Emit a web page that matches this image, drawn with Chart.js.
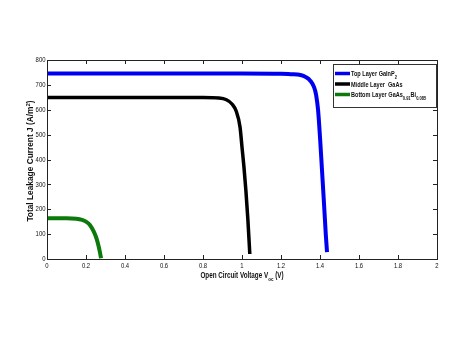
<!DOCTYPE html>
<html>
<head>
<meta charset="utf-8">
<script src="https://cdn.jsdelivr.net/npm/chart.js@4/dist/chart.umd.min.js"></script>
<style>
  html, body { margin: 0; padding: 0; background: #fff; }
  #wrap { width: 474px; height: 349px; }
</style>
</head>
<body>
<div id="wrap"><canvas id="jv"></canvas></div>
<script>
// J-V curves of the three sub-cells
var vTop = [0, 0.2, 0.4, 0.6, 0.8, 1.0, 1.2, 1.25, 1.30, 1.33, 1.35, 1.37, 1.38, 1.39, 1.40, 1.41, 1.42, 1.43, 1.436]
var jTop = [746, 746, 746, 746, 746, 746, 745, 743, 740, 730, 717, 690, 660, 600, 490, 360, 230, 95, 28]

var vMid = [0, 0.2, 0.4, 0.6, 0.8, 0.88, 0.92, 0.95, 0.97, 0.99, 1.00, 1.01, 1.02, 1.03, 1.04]
var jMid = [649, 649, 649, 649, 649, 647, 640, 622, 595, 530, 450, 370, 275, 160, 20]

var vBot = [0, 0.1, 0.15, 0.18, 0.2, 0.22, 0.24, 0.255, 0.265, 0.272, 0.277]
var jBot = [164, 164, 162, 157, 150, 137, 110, 80, 50, 25, 3]

var xTicks = [0, 0.2, 0.4, 0.6, 0.8, 1, 1.2, 1.4, 1.6, 1.8, 2]
var yTicks = [0, 100, 200, 300, 400, 500, 600, 700, 800]

// legend entries: [text, subscript, text, subscript, ...]
var legendParts = [
  ['Top Layer GaInP', '2'],
  ['Middle Layer  GaAs'],
  ['Bottom Layer GaAs', '0.91', 'Bi', '0.085']
]
var colors = ['#0000f0', '#000000', '#0b7a0b']

var FONT = '"Liberation Sans", Arial, sans-serif'
var SQUEEZE = 0.74   // narrow look of the text

function pts(xs, ys) {
  return xs.map((x, i) => ({x: x, y: ys[i]}))
}

// text runs with sub/superscripts, squeezed horizontally by sq
function drawRuns(ctx, runs, x, y, size, sq) {
  ctx.save()
  ctx.translate(x, y)
  ctx.scale(sq, 1)
  var cx = 0
  runs.forEach(r => {
    var s = r.sub || r.sup ? size * 0.72 : size
    ctx.font = 'bold ' + s + 'px ' + FONT
    var dy = r.sub ? size * 0.35 : (r.sup ? -size * 0.4 : 0)
    ctx.fillText(r.t, cx, dy)
    cx += ctx.measureText(r.t).width
  })
  ctx.restore()
}

function runsWidth(ctx, runs, size, sq) {
  var w = 0
  runs.forEach(r => {
    var s = r.sub || r.sup ? size * 0.72 : size
    ctx.font = 'bold ' + s + 'px ' + FONT
    w += ctx.measureText(r.t).width
  })
  return w * sq
}

function tickText(ctx, t, x, y, align) {
  ctx.save()
  ctx.translate(x, y)
  ctx.scale(SQUEEZE, 1)
  ctx.textAlign = align
  ctx.fillText(t, 0, 0)
  ctx.restore()
}

var frame = {
  id: 'frame',
  afterDraw(chart) {
    var ctx = chart.ctx
    var a = chart.chartArea
    var xs = chart.scales.x, ys = chart.scales.y
    ctx.save()
    ctx.strokeStyle = '#222'
    ctx.lineWidth = 1
    ctx.strokeRect(a.left + 0.5, a.top + 0.5, a.right - a.left, a.bottom - a.top)

    // inward ticks on all four sides
    ctx.beginPath()
    xTicks.forEach(v => {
      var px = Math.round(xs.getPixelForValue(v)) + 0.5
      ctx.moveTo(px, a.bottom); ctx.lineTo(px, a.bottom - 4)
      ctx.moveTo(px, a.top); ctx.lineTo(px, a.top + 4)
    })
    yTicks.forEach(v => {
      var py = Math.round(ys.getPixelForValue(v)) + 0.5
      ctx.moveTo(a.left, py); ctx.lineTo(a.left + 4, py)
      ctx.moveTo(a.right, py); ctx.lineTo(a.right - 4, py)
    })
    ctx.stroke()

    // tick labels
    ctx.fillStyle = '#111'
    ctx.font = '8px ' + FONT
    ctx.textBaseline = 'middle'
    xTicks.forEach(v => tickText(ctx, String(v), xs.getPixelForValue(v), a.bottom + 7, 'center'))
    yTicks.forEach(v => tickText(ctx, String(v), a.left - 1.5, ys.getPixelForValue(v), 'right'))

    // axis titles
    ctx.textBaseline = 'alphabetic'
    var xt = [{t: 'Open Circuit Voltage V'}, {t: 'oc', sub: true}, {t: ' (V)'}]
    var w = runsWidth(ctx, xt, 8.5, SQUEEZE)
    drawRuns(ctx, xt, 242 - w / 2, 278, 8.5, SQUEEZE)

    var yt = [{t: 'Total Leakage Current J (A/m'}, {t: '2', sup: true}, {t: ')'}]
    w = runsWidth(ctx, yt, 8.5, 0.98)
    ctx.save()
    ctx.translate(33, 161)
    ctx.rotate(-Math.PI / 2)
    drawRuns(ctx, yt, -w / 2, 0, 8.5, 0.98)
    ctx.restore()

    // legend box
    var bx = 333, by = 64, bw = 103, bh = 43
    ctx.fillStyle = '#fff'
    ctx.fillRect(bx, by, bw, bh)
    ctx.strokeStyle = '#333'
    ctx.lineWidth = 1
    ctx.strokeRect(bx + 0.5, by + 0.5, bw, bh)
    legendParts.forEach((parts, i) => {
      var ly = 73.5 + i * 10.5
      ctx.strokeStyle = colors[i]
      ctx.lineWidth = 3.5
      ctx.beginPath()
      ctx.moveTo(335, ly); ctx.lineTo(350, ly)
      ctx.stroke()
      ctx.fillStyle = '#111'
      var runs = parts.map((p, k) => ({t: p, sub: k % 2 === 1}))
      drawRuns(ctx, runs, 351, ly + 2.5, 7.5, SQUEEZE)
    })
    ctx.restore()
  }
}

var ctx = document.getElementById('jv').getContext('2d')
var chart = new Chart(ctx, {
  type: 'scatter',
  data: {
    datasets: [
      {label: 'Top Layer GaInP2', data: pts(vTop, jTop), borderColor: colors[0], borderWidth: 4},
      {label: 'Middle Layer GaAs', data: pts(vMid, jMid), borderColor: colors[1], borderWidth: 3.5},
      {label: 'Bottom Layer GaAs0.91Bi0.085', data: pts(vBot, jBot), borderColor: colors[2], borderWidth: 4}
    ].map(d => Object.assign(d, {showLine: true, pointRadius: 0, cubicInterpolationMode: 'monotone', borderCapStyle: 'butt'}))
  },
  options: {
    responsive: true,
    maintainAspectRatio: false,
    animation: false,
    layout: {padding: {left: 0, right: 37, top: 60, bottom: 0}},
    plugins: {legend: {display: false}, tooltip: {enabled: false}},
    scales: {
      x: {
        type: 'linear', min: 0, max: 2,
        afterFit: s => { s.height = 90 },
        grid: {display: false, drawTicks: false},
        border: {display: false},
        ticks: {display: false}
      },
      y: {
        type: 'linear', min: 0, max: 800,
        afterFit: s => { s.width = 47 },
        grid: {display: false, drawTicks: false},
        border: {display: false},
        ticks: {display: false}
      }
    }
  },
  plugins: [frame]
})
</script>
</body>
</html>
